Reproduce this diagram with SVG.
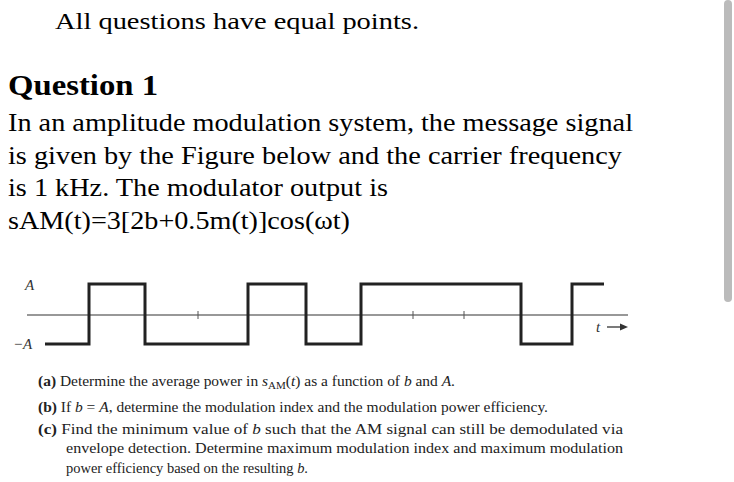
<svg xmlns="http://www.w3.org/2000/svg" width="734" height="482" viewBox="0 0 734 482">
<style>
.t{font-family:"Liberation Serif",serif;fill:#000}
.w{fill:none;stroke:#222;stroke-width:3}
.q{font-family:"Liberation Serif",serif;font-size:14px;fill:#222}
.l{font-family:"Liberation Serif",serif;font-style:italic;font-size:15px;fill:#333}
</style>
<rect width="734" height="482" fill="#fff"/>
<rect x="724" y="0" width="8" height="302" rx="4" fill="#bbb"/>
<g id="header">
<text class="t" x="55" y="29" font-size="24" textLength="364" lengthAdjust="spacingAndGlyphs">All questions have equal points.</text>
<text class="t" x="8" y="95" font-size="29" font-weight="bold" textLength="150" lengthAdjust="spacingAndGlyphs">Question 1</text>
<text class="t" x="8" y="131" font-size="26" textLength="625" lengthAdjust="spacingAndGlyphs">In an amplitude modulation system, the message signal</text>
<text class="t" x="8" y="164" font-size="26" textLength="614" lengthAdjust="spacingAndGlyphs">is given by the Figure below and the carrier frequency</text>
<text class="t" x="8" y="196" font-size="26" textLength="380" lengthAdjust="spacingAndGlyphs">is 1 kHz. The modulator output is</text>
<text class="t" x="8" y="229" font-size="26" textLength="342" lengthAdjust="spacingAndGlyphs">sAM(t)=3[2b+0.5m(t)]cos(ωt)</text>
</g>
<g id="waveform">
<line x1="27" y1="315" x2="628" y2="315" stroke="#333" stroke-width="1.2"/>
<g stroke="#555" stroke-width="1"><line x1="198" y1="311" x2="198" y2="319"/><line x1="413" y1="311" x2="413" y2="319"/><line x1="464" y1="311" x2="464" y2="319"/></g>
<polyline class="w" points="45,344 89,344 89,284 145,284 145,344 248,344 248,284 306,284 306,344 361,344 361,284 521,284 521,344 572,344 572,284 604,284"/>
<text class="l" x="25" y="290">A</text>
<text class="l" x="13" y="349">−A</text>
<text class="l" x="596" y="332">t</text>
<line x1="607" y1="327" x2="624" y2="327" stroke="#333" stroke-width="1.3"/>
<polygon points="628,327 620,323.5 620,330.5" fill="#333"/>
</g>
<g id="questions">
<text class="q" x="38" y="386" textLength="417" lengthAdjust="spacingAndGlyphs"><tspan font-weight="bold">(a)</tspan> Determine the average power in <tspan font-style="italic">s</tspan><tspan font-size="10" dy="3">AM</tspan><tspan dy="-3">(</tspan><tspan font-style="italic">t</tspan>) as a function of <tspan font-style="italic">b</tspan> and <tspan font-style="italic">A</tspan>.</text>
<text class="q" x="38" y="412" textLength="510" lengthAdjust="spacingAndGlyphs"><tspan font-weight="bold">(b)</tspan> If <tspan font-style="italic">b</tspan> = <tspan font-style="italic">A</tspan>, determine the modulation index and the modulation power efficiency.</text>
<text class="q" x="38" y="434" textLength="585" lengthAdjust="spacingAndGlyphs"><tspan font-weight="bold">(c)</tspan> Find the minimum value of <tspan font-style="italic">b</tspan> such that the AM signal can still be demodulated via</text>
<text class="q" x="66" y="453" textLength="557" lengthAdjust="spacingAndGlyphs">envelope detection. Determine maximum modulation index and maximum modulation</text>
<text class="q" x="66" y="473" textLength="242" lengthAdjust="spacingAndGlyphs">power efficiency based on the resulting <tspan font-style="italic">b</tspan>.</text>
</g>
</svg>
